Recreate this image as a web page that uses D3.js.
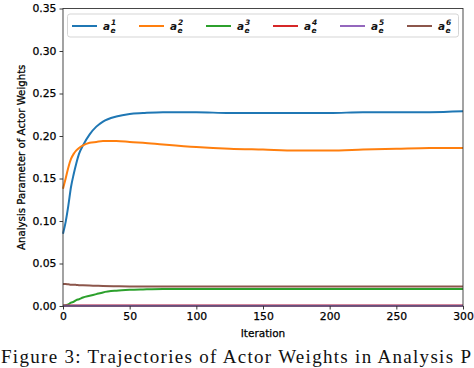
<!DOCTYPE html>
<html><head><meta charset="utf-8">
<script src="https://cdn.jsdelivr.net/npm/d3@7"></script>
<style>body{margin:0;background:#fff}svg{display:block}</style>
</head><body>
<script>
const iterations = [0,2,4,6,8,10,12,15,20,25,30,40,50,60,75,100,125,150,175,200,225,250,275,300];
const a1 = [0.085,0.099,0.118,0.140,0.155,0.168,0.179,0.189,0.202,0.211,0.217,0.223,0.226,0.227,0.228,0.228,0.227,0.227,0.227,0.227,0.228,0.228,0.228,0.229];
const a2 = [0.138,0.150,0.163,0.173,0.179,0.183,0.186,0.189,0.192,0.193,0.194,0.194,0.193,0.192,0.190,0.187,0.185,0.184,0.183,0.183,0.184,0.185,0.186,0.186];
const a3 = [0.000,0.001,0.002,0.004,0.005,0.007,0.008,0.010,0.012,0.014,0.016,0.018,0.019,0.0195,0.020,0.020,0.020,0.020,0.020,0.020,0.020,0.020,0.020,0.020];
const a4 = [0.0005,0.0005,0.0005,0.0005,0.0005,0.0005,0.0005,0.0005,0.0005,0.0005,0.0005,0.0005,0.0005,0.0005,0.0005,0.0005,0.0005,0.0005,0.0005,0.0005,0.0005,0.0005,0.0005,0.0005];
const a5 = [0.0004,0.0004,0.0004,0.0004,0.0004,0.0004,0.0004,0.0004,0.0004,0.0004,0.0004,0.0004,0.0004,0.0004,0.0004,0.0004,0.0004,0.0004,0.0004,0.0004,0.0004,0.0004,0.0004,0.0004];
const a6 = [0.026,0.0258,0.0255,0.025,0.025,0.0248,0.0245,0.0243,0.024,0.0238,0.0235,0.0232,0.023,0.023,0.023,0.023,0.023,0.023,0.023,0.023,0.023,0.023,0.023,0.023];
const seriesNames = ["1","2","3","4","5","6"];
const seriesValues = [a1,a2,a3,a4,a5,a6];
const colors = ["#1f77b4","#ff7f0e","#2ca02c","#d62728","#9467bd","#8c564b"];
const xTicks = [0,50,100,150,200,250,300];
const yTicks = [0,0.05,0.10,0.15,0.20,0.25,0.30,0.35];
const yLabel = "Analysis Parameter of Actor Weights";
const xLabel = "Iteration";
const caption = "Figure 3: Trajectories of Actor Weights in Analysis P";

const W = 474, H = 368;
const L = 63, R = 463, T = 8.5, B = 306;
const svg = d3.select("body").append("svg").attr("width", W).attr("height", H);

const x = d3.scaleLinear().domain([0,300]).range([L,R]);
const y = d3.scaleLinear().domain([0,0.35]).range([B,T]);

const font = "DejaVu Sans, sans-serif";

// lines
const line = d3.line().x((d,i)=>x(iterations[i])).y(d=>y(d)).curve(d3.curveMonotoneX);
const g = svg.append("g");
seriesValues.forEach((vals, k) => {
  g.append("path").datum(vals).attr("d", line)
    .attr("fill","none").attr("stroke", colors[k]).attr("stroke-width", 2)
    .attr("stroke-linejoin","round");
});

// axes
const xAxis = svg.append("g").attr("transform", `translate(0,${B})`)
  .call(d3.axisBottom(x).tickValues(xTicks).tickFormat(d3.format("d")).tickSize(3.5).tickPadding(3));
const yAxis = svg.append("g").attr("transform", `translate(${L},0)`)
  .call(d3.axisLeft(y).tickValues(yTicks).tickFormat(d3.format(".2f")).tickSize(3.5).tickPadding(3));
[xAxis, yAxis].forEach(a => {
  a.select(".domain").remove();
  a.selectAll("text").attr("font-family", font).attr("font-size", 10.8).attr("fill","#000")
    .attr("stroke","#000").attr("stroke-width",0.25);
  a.selectAll("line").attr("stroke","#222").attr("stroke-width",0.9);
});

// frame
svg.append("rect").attr("x", L).attr("y", T).attr("width", R-L).attr("height", B-T)
  .attr("fill","none").attr("stroke","#333").attr("stroke-width",0.9);

// labels
svg.append("text").attr("x", (L+R)/2).attr("y", 337).attr("text-anchor","middle")
  .attr("font-family", font).attr("font-size", 10.5).attr("fill","#000")
  .attr("stroke","#000").attr("stroke-width",0.25).text(xLabel);
svg.append("text").attr("transform", `translate(25,${(T+B)/2}) rotate(-90)`)
  .attr("text-anchor","middle").attr("font-family", font).attr("font-size", 10.2)
  .attr("fill","#000").attr("stroke","#000").attr("stroke-width",0.25).text(yLabel);

// legend
const lg = svg.append("g");
lg.append("rect").attr("x", 67.5).attr("y", 14).attr("width", 391).attr("height", 23)
  .attr("rx", 2.5).attr("fill","#fff").attr("fill-opacity",0.8).attr("stroke","#d0d0d0").attr("stroke-width",0.9);
seriesNames.forEach((n, k) => {
  const lx = 72 + k*67;
  lg.append("line").attr("x1", lx).attr("x2", lx+25).attr("y1", 26).attr("y2", 26)
    .attr("stroke", colors[k]).attr("stroke-width", 2);
  const t = lg.append("text").attr("x", lx+31).attr("y", 29.5)
    .attr("font-family", font).attr("font-size", 10.5).attr("font-weight","bold").attr("font-style","italic").attr("fill","#111");
  t.append("tspan").text("a");
  t.append("tspan").attr("font-size", 7.5).attr("dy", 3).attr("dx", 0.5).text("e");
  t.append("tspan").attr("font-size", 7.5).attr("dy", -8).attr("dx", -4.6).text(n);
});

// caption (bottom edge of the picture)
svg.append("text").attr("x", 1).attr("y", 363).attr("font-family","Liberation Serif, serif")
  .attr("font-size", 19).attr("fill","#111").attr("textLength", 470).attr("lengthAdjust","spacing")
  .text(caption);
</script>
</body></html>
